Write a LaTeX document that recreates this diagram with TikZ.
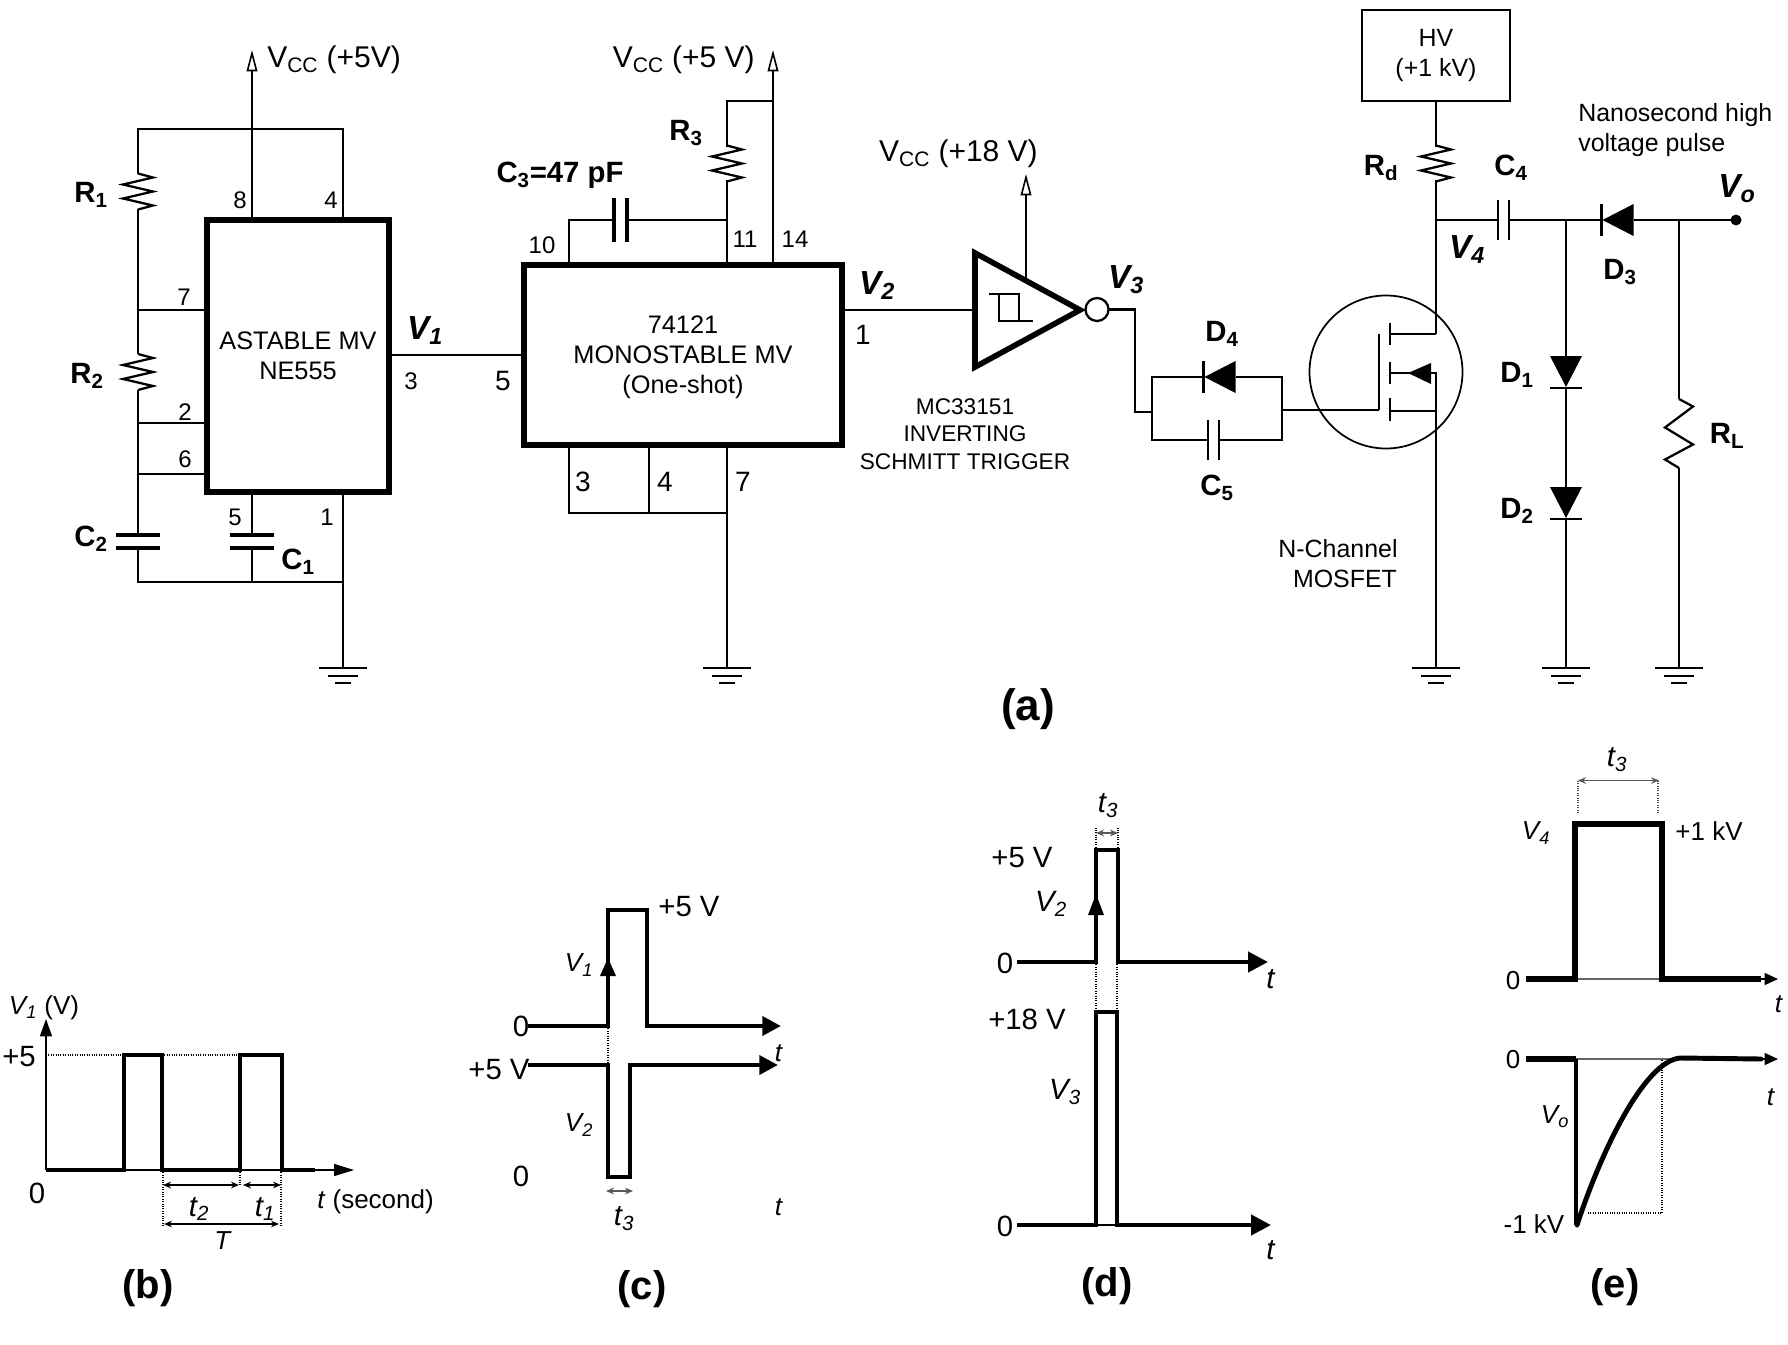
\documentclass[tikz,border=0pt]{standalone}
\usepackage{fontspec}
\setmainfont{Liberation Sans}
\usetikzlibrary{arrows.meta,calc}

\def\pxu{0.75pt}
\newcommand{\vsub}[2]{\textit{#1\textsubscript{#2}}}

\tikzset{
  wire/.style={line width=1.7pt},
  fine/.style={line width=1pt},
  wave/.style={line width=3.3pt,line join=miter},
  dotline/.style={line width=0.8pt,densely dotted},
  span/.style={line width=0.9pt,{Stealth[length=6pt,width=5pt]}-{Stealth[length=6pt,width=5pt]}},
  openhead/.style={-{Triangle[open,length=16pt,width=8pt,line width=1.2pt]}},
  lab/.style={inner sep=0pt,font=\fontsize{18.7}{22.5}\selectfont,align=center},
  triglab/.style={inner sep=0pt,font=\fontsize{17}{20.5}\selectfont,align=center},
  pinno/.style={inner sep=0pt,font=\fontsize{18}{20}\selectfont},
  pinbig/.style={inner sep=0pt,font=\fontsize{21}{24}\selectfont},
  vcclab/.style={inner sep=0pt,font=\fontsize{22.5}{24}\selectfont},
  partlab/.style={inner sep=0pt,font=\fontsize{22}{24}\bfseries\selectfont},
  siglab/.style={inner sep=0pt,font=\fontsize{25}{28}\bfseries\itshape\selectfont},
  axlab/.style={inner sep=0pt,font=\fontsize{22}{24}\selectfont},
  smalllab/.style={inner sep=0pt,font=\fontsize{19.5}{22}\selectfont},
  panellab/.style={inner sep=0pt,font=\fontsize{30}{32}\bfseries\selectfont},
  icbox/.style={draw,line width=4.2pt,outer sep=0pt,inner sep=0pt,align=center,
    font=\fontsize{19}{22.5}\selectfont},
  pics/gnd/.style={code={
    \draw[line width=2pt] (-24,0) -- (24,0) (-15,8) -- (15,8) (-8,15) -- (8,15);}},
  pics/zig/.style={code={
    \draw[wire,line join=miter] (0,-18) -- (15,-14) -- (-15,-7) -- (15,0) -- (-15,7) -- (15,14) -- (0,18);}},
  pics/zigload/.style={code={
    \draw[wire,line join=miter] (0,-34.5) -- (14,-27) -- (-14,-6) -- (14,11) -- (-14,26) -- (0,34.5);}},
  pics/diode/.style={code={
    \fill (-16,-16) -- (16,-16) -- (0,15) -- cycle;
    \draw[wire] (-16,16) -- (16,16);}},
  pics/capheavy/.style={code={
    \draw[line width=3pt] (-22,-6.5) -- (22,-6.5) (-22,6.5) -- (22,6.5);}},
  pics/caplight/.style={code={
    \draw[wire] (-20,-5.5) -- (20,-5.5) (-20,5.5) -- (20,5.5);}},
}

\begin{document}
\begin{tikzpicture}[x=\pxu,y=-\pxu]

  \useasboundingbox (0,0) rectangle (1788,1345);

  % (a) the two timers
  \node[icbox,minimum width=182*\pxu,minimum height=272*\pxu] (astable) at (298,356) {ASTABLE MV\\NE555};
  \node[icbox,minimum width=318*\pxu,minimum height=180*\pxu] (mono) at (683,355)
    {\rule{0pt}{16pt}74121\\MONOSTABLE MV\\(One-shot)};
  \node[draw,line width=2pt,outer sep=0pt,minimum width=148*\pxu,minimum height=91*\pxu,
    lab] (hv) at (1436,55.5) {HV\\(+1 kV)};

  \coordinate (vcca) at (252,50);
  \coordinate (vccb) at (773,50);
  \coordinate (vccc) at (1026,174);
  \coordinate (gnda) at (343,668);
  \coordinate (gndb) at (727,668);
  \coordinate (gndc) at (1436,668);
  \coordinate (gndd) at (1566,668);
  \coordinate (gnde) at (1679,668);
  \foreach \g in {gnda,gndb,gndc,gndd,gnde}
    \pic at (\g) {gnd};

  % left timer network
  \coordinate (railL) at (138,129);
  \coordinate (railR) at (343,129);
  \coordinate (bot) at (138,582);
  \coordinate (botR) at (343,582);
  \draw[wire,openhead] (astable.north -| vcca) -- (vcca);
  \draw[wire] (astable.north -| railR) -- (railR) -- (railL) -- (138,174);
  \pic at (138,191.5) {zig};
  \draw[wire] (138,209) -- (138,354);
  \pic at (138,372) {zig};
  \draw[wire] (138,390) -- (138,535);
  \foreach \y in {310,423,474}
    \draw[wire] (138,\y) -- (astable.west |- 0,\y);
  \pic at (138,541.5) {capheavy};
  \pic at (252,541.5) {capheavy};
  \draw[wire] (138,548) -- (bot) -- (botR);
  \draw[wire] (astable.south -| vcca) -- (252,535);
  \draw[wire] (252,548) -- (252,582);
  \draw[wire] (astable.south -| gnda) -- (gnda);
  \draw[wire] (astable.east |- 0,355) -- (mono.west |- 0,355);

  % one-shot network
  \coordinate (pinten) at (569,220);
  \coordinate (pineleven) at (727,220);
  \draw[wire] (mono.north -| pinten) -- (pinten) -- (613,220);
  \pic[rotate=90] at (620,220) {capheavy};
  \draw[wire] (627,220) -- (pineleven);
  \draw[wire] (mono.north -| pineleven) -- (727,180);
  \pic at (727,163.5) {zig};
  \draw[wire] (727,147) -- (727,101) -- (773,101);
  \draw[wire,openhead] (mono.north -| vccb) -- (vccb);
  \draw[wire] (mono.south -| gndb) -- (gndb);
  \draw[wire] (mono.south -| pinten) -- (569,513) -- (727,513);
  \draw[wire] (mono.south -| 649,0) -- (649,513);

  % schmitt trigger
  \coordinate (trigA) at (975,253);
  \coordinate (trigB) at (975,367);
  \coordinate (trigC) at (1080,310);
  \draw[line width=4.2pt,line join=miter] (trigA) -- (trigB) -- (trigC) -- cycle;
  \draw[fine] (989,294) -- (1019,294) -- (1019,321) -- (1033,321);
  \draw[fine] (999,294) -- (999,321) -- (1019,321);
  \node[circle,draw,wire,minimum size=23*\pxu,inner sep=0pt,outer sep=0pt] (bubble) at (1097,309.5) {};
  \draw[wire] (mono.east |- 0,310) -- (trigA |- 0,310);
  \draw[wire,openhead] (1026,279) -- (vccc);
  \draw[wire] (bubble.east) -- (1135,309.5) -- (1135,412) -- (1152,412);

  % gate network
  \draw[wire] (1152,412) -- (1152,377) -- (1203,377);
  \pic[rotate=-90] at (1219.5,377) {diode};
  \draw[wire] (1236,377) -- (1282,377) -- (1282,440) -- (1219,440);
  \pic[rotate=90] at (1213.5,440) {caplight};
  \draw[wire] (1208,440) -- (1152,440) -- (1152,412);
  \draw[wire] (1282,410) -- (1379,410);

  % mosfet
  \node[circle,draw,line width=1.3pt,minimum size=153*\pxu,inner sep=0pt] (fet) at (1386,372) {};
  \draw[wire] (1379,334) -- (1379,410);
  \draw[wire] (1390,323) -- (1390,345) (1390,362) -- (1390,384) (1390,398) -- (1390,421);
  \draw[wire] (1390,334) -- (1436,334);
  \draw[wire] (1390,411) -- (1436,411);
  \draw[wire] (1390,373) -- (1436,373) -- (1436,411);
  \fill (1408,373) -- (1431,363) -- (1431,384) -- cycle;

  % high voltage side
  \draw[wire] (hv.south) -- (1436,147);
  \pic at (1436,163.5) {zig};
  \draw[wire] (1436,180) -- (1436,334);
  \draw[wire] (1436,411) -- (gndc);
  \draw[wire] (1436,220) -- (1498,220);
  \pic[rotate=90] at (1503.5,220) {caplight};
  \draw[wire] (1509,220) -- (1601,220);
  \pic[rotate=-90] at (1617.5,220) {diode};
  \coordinate (vout) at (1736,220);
  \fill (vout) circle (5.5);
  \draw[wire] (1634,220) -- (vout);
  \draw[wire] (1566,220) -- (1566,356);
  \pic at (1566,372) {diode};
  \draw[wire] (1566,388) -- (1566,487);
  \pic at (1566,503) {diode};
  \draw[wire] (1566,519) -- (gndd);
  \draw[wire] (1679,220) -- (1679,399);
  \pic at (1679,433.5) {zigload};
  \draw[wire] (1679,468) -- (gnde);

  % (a) pin numbers and labels
  \foreach \n/\x/\y/\t in {a/240/200/8,b/331/200/4,c/184/297/7,d/185/412/2,e/185/459/6,
      f/235/517/5,g/327/517/1,h/411/381/3,i/542/245/10,j/745/239/11,k/795/239/14}
    \node[pinno] (pin\n) at (\x,\y) {\t};
  \foreach \n/\x/\y/\t in {l/503/381/5,m/863/335/1,o/583/482/3,p/665/482/4,q/743/482/7}
    \node[pinbig] (pin\n) at (\x,\y) {\t};

  \foreach \n/\x/\y/\t/\s in {Ra/91/195/R/1,Rb/87/376/R/2,Rc/686/133/R/3,Rd/1381/168/R/d,Rl/1727/436/R/L,
      Ca/298/562/C/1,Cb/91/539/C/2,Cd/1511/168/C/4,Ce/1217/488/C/5,
      Da/1517/375/D/1,Db/1517/511/D/2,Dc/1620/272/D/3,Dd/1222/334/D/4}
    \node[partlab] (lbl\n) at (\x,\y) {\t\textsubscript{\s}};
  \node[partlab] (lblCc) at (560,175) {C\textsubscript{3}=47 pF};

  \foreach \n/\x/\y/\s in {A/425/331/1,B/877/286/2,C/1126/280/3,D/1467/250/4,O/1737/189/o}
    \node[siglab] (sig\n) at (\x,\y) {V\textsubscript{\s}};

  \node[vcclab,anchor=west] (vccA) at (267,60) {V\textsubscript{CC} (+5V)};
  \node[vcclab,anchor=east] (vccB) at (755,60) {V\textsubscript{CC} (+5 V)};
  \node[vcclab,anchor=east] (vccC) at (1038,154) {V\textsubscript{CC} (+18 V)};

  \node[triglab] (trigname) at (965,434) {MC33151\\INVERTING\\SCHMITT TRIGGER};
  \node[lab] (fetname) at (1338,564) {N-Channel\\\ \ MOSFET};
  \node[lab,anchor=west,align=left] (pulsename) at (1578,130) {Nanosecond high\\voltage pulse};
  \node[inner sep=0pt,font=\fontsize{33}{36}\bfseries\selectfont] (capa) at (1028,709) {(a)};

  % (b)
  \draw[fine,-{Triangle[length=13pt,width=9pt]}] (46,1170) -- (46,1019);
  \draw[fine,-{Triangle[length=15pt,width=9pt]}] (46,1170) -- (354,1170);
  \draw[dotline] (46,1055) -- (124,1055) (162,1055) -- (240,1055);
  \draw[wave] (46,1170) -- (124,1170) -- (124,1055) -- (162,1055) -- (162,1170)
    -- (240,1170) -- (240,1055) -- (282,1055) -- (282,1170) -- (315,1170);
  \draw[dotline] (163,1170) -- (163,1226) (240,1170) -- (240,1185) (281,1170) -- (281,1226);
  \draw[span] (163,1185) -- (239,1185);
  \draw[span] (243,1185) -- (281,1185);
  \draw[span] (164,1224) -- (279,1224);
  \node[axlab] (bfive) at (19,1057) {+5};
  \node[axlab] (bzero) at (37,1193) {0};
  \node[smalllab] (bvone) at (44,1008) {\vsub{V}{1} (V)};
  \node[axlab] (btwo) at (199,1209) {\vsub{t}{2}};
  \node[axlab] (bone) at (265,1209) {\vsub{t}{1}};
  \node[smalllab] (bperiod) at (223,1241) {\textit{T}};
  \node[smalllab] (bsec) at (375.5,1202) {\textit{t} (second)};
  \node[panellab] (capb) at (148,1288) {(b)};

  % (c)
  \draw[wave,-{Triangle[length=14pt,width=14pt]}] (528,1026) -- (608,1026) -- (608,910)
    -- (647,910) -- (647,1026) -- (781,1026);
  \draw[wave,-{Triangle[length=14pt,width=14pt]}] (528,1065) -- (608,1065) -- (608,1177)
    -- (630,1177) -- (630,1065) -- (778,1065);
  \fill (608,958) -- (616,976) -- (600,976) -- cycle;
  \draw[dotline] (608,1026) -- (608,1065);
  \draw[span,black!65] (606,1191) -- (633,1191);
  \node[axlab] (cfive) at (689,907) {+5 V};
  \node[axlab] (cfiveb) at (499,1070) {+5 V};
  \node[axlab] (czero) at (521,1026) {0};
  \node[axlab] (czerob) at (521,1176) {0};
  \node[smalllab] (cvone) at (579,965) {\vsub{V}{1}};
  \node[smalllab] (cvtwo) at (579,1125) {\vsub{V}{2}};
  \node[axlab] (cthree) at (624,1219) {\vsub{t}{3}};
  \node[smalllab] (ct) at (779,1053) {\textit{t}};
  \node[smalllab] (ctb) at (779,1207) {\textit{t}};
  \node[panellab] (capc) at (642,1289) {(c)};

  % (d)
  \draw[wave,-{Triangle[length=15pt,width=15pt]}] (1017,962) -- (1096,962) -- (1096,850)
    -- (1118,850) -- (1118,962) -- (1268,962);
  \fill (1096,894) -- (1104,915) -- (1088,915) -- cycle;
  \draw[fine] (1096,1225) -- (1117,1225);
  \draw[wave,-{Triangle[length=15pt,width=15pt]}] (1017,1225) -- (1096,1225) -- (1096,1012)
    -- (1117,1012) -- (1117,1225) -- (1271,1225);
  \draw[dotline] (1096,962) -- (1096,1012) (1117,962) -- (1117,1012);
  \draw[dotline] (1096,850) -- (1096,828) (1118,850) -- (1118,828);
  \draw[span,black!65] (1096,833) -- (1118,833);
  \node[axlab] (dthree) at (1108,806) {\vsub{t}{3}};
  \node[axlab] (dfive) at (1022,858) {+5 V};
  \node[axlab] (deighteen) at (1027,1019) {+18 V};
  \node[axlab] (dvtwo) at (1051,904) {\vsub{V}{2}};
  \node[axlab] (dvthree) at (1065,1092) {\vsub{V}{3}};
  \node[axlab] (dzero) at (1005,963) {0};
  \node[axlab] (dzerob) at (1005,1226) {0};
  \node[axlab] (dt) at (1271,979) {\textit{t}};
  \node[axlab] (dtb) at (1271,1250) {\textit{t}};
  \node[panellab] (capd) at (1107,1286) {(d)};

  % (e)
  \draw[fine,black!60] (1575,979) -- (1662,979);
  \draw[fine,-{Triangle[length=10pt,width=9pt]}] (1662,979) -- (1778,979);
  \draw[line width=4.5pt,line join=miter] (1526,979) -- (1575,979) -- (1575,824)
    -- (1662,824) -- (1662,979) -- (1761,979);
  \draw[dotline,black!70] (1578,813) -- (1578,780) (1658,813) -- (1658,780);
  \draw[span,black!65] (1578,780.5) -- (1659,780.5);
  \draw[fine,black!60] (1575,1059) -- (1681,1059);
  \draw[fine,-{Triangle[length=10pt,width=9pt]}] (1681,1059) -- (1778,1059);
  \draw[line width=4pt] (1526,1059) -- (1576,1059);
  \draw[line width=2.8pt] (1576,1059) -- (1576,1225);
  \draw[dotline] (1588,1213) -- (1662,1213) -- (1662,1059);
  \draw[line width=3.7pt,line cap=round] (1577,1225) .. controls (1605,1140) and (1648,1059) .. (1681,1058) -- (1761,1059);
  \node[axlab] (ethree) at (1617,760) {\vsub{t}{3}};
  \node[smalllab] (evfour) at (1536,833) {\vsub{V}{4}};
  \node[smalllab] (ekv) at (1709,831.5) {+1 kV};
  \node[smalllab] (ezero) at (1513,980.5) {0};
  \node[smalllab] (ezerob) at (1513,1060) {0};
  \node[smalllab] (et) at (1779,1004) {\textit{t}};
  \node[smalllab] (etb) at (1771,1097) {\textit{t}};
  \node[smalllab] (evo) at (1555,1117) {\vsub{V}{o}};
  \node[smalllab] (eneg) at (1534,1224.5) {-1 kV};
  \node[panellab] (cape) at (1615,1287.5) {(e)};

\end{tikzpicture}
\end{document}
